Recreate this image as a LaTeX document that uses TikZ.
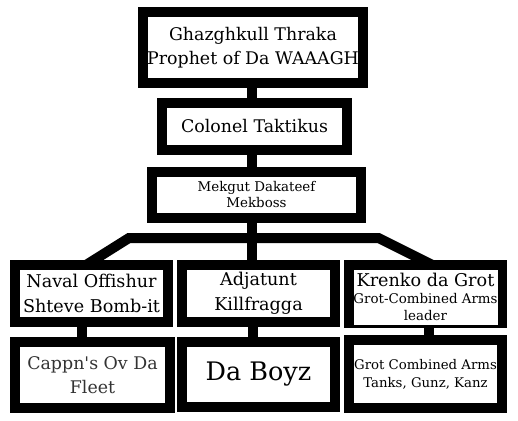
\documentclass[tikz,border=0pt]{standalone}
\usepackage{fontspec}
\setmainfont{DejaVu Serif}
\usetikzlibrary{backgrounds}
\definecolor{darktext}{HTML}{333333}
\newcommand{\krenkofont}{\fontsize{17.6}{17}\selectfont}
\newcommand{\krenkosmall}{\fontsize{13.4}{16}\selectfont}
\begin{document}
\begin{tikzpicture}[x=1pt,y=-1pt,
  box/.style={draw=black, line width=10pt, align=center, inner sep=0pt, text=black},
  conn/.style={draw=black, line width=10pt, line join=miter},
  big/.style={font=\fontsize{17.4}{24}\selectfont},
  mid/.style={font=\fontsize{17.6}{25}\selectfont},
  small/.style={font=\fontsize{13.4}{16}\selectfont}]
\useasboundingbox (0,0) rectangle (518,420);
% top column
\node[box, big, minimum width=220pt, minimum height=71pt] (b1) at (253,47.5) {Ghazghkull Thraka\\Prophet of Da WAAAGH};
\node[box, big, minimum width=185pt, minimum height=47pt] (b2) at (254.5,126.5) {Colonel Taktikus};
\node[box, small, minimum width=209pt, minimum height=46pt] (b3) at (256.5,195) {Mekgut Dakateef\\Mekboss};
% middle row
\node[box, mid, minimum width=153pt, minimum height=57pt] (b4) at (91.5,293.5) {Naval Offishur\\Shteve Bomb-it};
\node[box, mid, minimum width=153pt, minimum height=57pt] (b5) at (258.5,293.5) {Adjatunt\\Killfragga};
\node[inner sep=0pt, minimum width=163pt, minimum height=68pt] (b6) at (425.5,294) {};
\node[align=center, inner sep=0pt, font=\krenkofont, text=black] (b6text) at (425.5,296.5)
  {Krenko da Grot\\ \krenkosmall Grot-Combined Arms\\ \krenkosmall leader};
% bottom row
\node[box, font=\fontsize{17.4}{23.5}\selectfont, text=darktext, minimum width=155pt, minimum height=66pt] (b7) at (92.5,375) {Cappn\textquotesingle s Ov Da\\Fleet};
\node[box, font=\fontsize{25.5}{30}\selectfont, minimum width=153pt, minimum height=65pt] (b8) at (258.5,374.5) {Da Boyz};
\node[box, font=\fontsize{13.3}{18}\selectfont, minimum width=153pt, minimum height=68pt] (b9) at (425.5,374) {Grot Combined Arms\\Tanks, Gunz, Kanz};
% connector guides
\coordinate (trunk) at (252,0);
\coordinate (lx) at (82,0);
\coordinate (mx) at (253,0);
\coordinate (rx) at (429,0);
\coordinate (lcorner) at (129,238);
\coordinate (rcorner) at (378.5,238);
\coordinate (lend) at (86,265);
\coordinate (rend) at (432.5,265);
% background: page, Krenko frame, connectors
\begin{scope}[on background layer]
\fill[white] (0,0) rectangle (518,420);
\fill[black] (b6.north west) rectangle (b6.south east);
\fill[white] ([shift={(10pt,-10pt)}]b6.north west) rectangle ([shift={(-9pt,3pt)}]b6.south east);
\draw[conn] (b1.south -| trunk) -- (b2.north -| trunk);
\draw[conn] (b2.south -| trunk) -- (b3.north -| trunk);
\draw[conn] (b3.south -| trunk) -- (b5.north -| trunk);
\draw[conn] (lend) -- (lcorner) -- (rcorner) -- (rend);
\draw[conn] (b4.south -| lx) -- (b7.north -| lx);
\draw[conn] (b5.south -| mx) -- (b8.north -| mx);
\draw[conn] (b6.south -| rx) -- (b9.north -| rx);
\end{scope}
\end{tikzpicture}
\end{document}
